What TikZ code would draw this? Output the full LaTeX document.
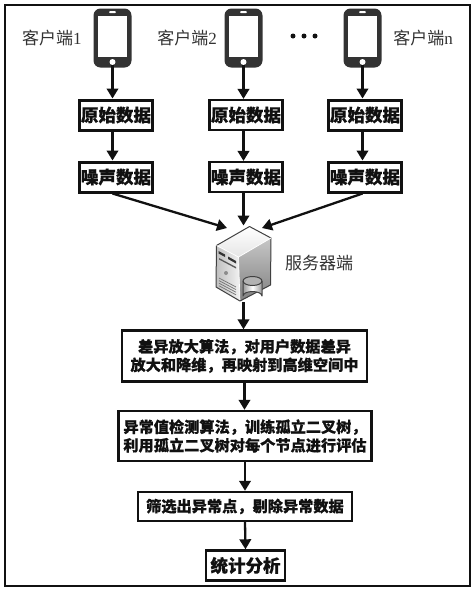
\documentclass[tikz,border=0pt]{standalone}
\usepackage{fontspec}
\newfontfamily\cjk[BoldFeatures={FakeBold=0.35}]{Noto Sans CJK SC}
\newfontfamily\latinserif{Liberation Serif}
\usetikzlibrary{arrows.meta,calc}
\definecolor{ink}{HTML}{111111}
\definecolor{phonecol}{HTML}{333333}
\definecolor{labelcol}{HTML}{333333}
\tikzset{
  framebox/.style={draw=ink,line width=2pt},
  databox/.style={draw=ink,line width=2.2pt,fill=white,inner sep=0pt,minimum width=73pt,minimum height=30pt,font=\cjk\bfseries\fontsize{17.5}{19}\selectfont,text=ink},
  heavybox/.style={databox,line width=3pt},
  stepbox/.style={draw=ink,line width=2.4pt,fill=white,inner sep=0pt,align=center,font=\cjk\bfseries\fontsize{15.2}{18.5}\selectfont,text=ink},
  flow/.style={draw=ink,line width=2.3pt,-{Triangle[length=10pt,width=11.5pt]}},
  label/.style={inner sep=0pt,text=labelcol,font=\cjk\fontsize{17}{19}\selectfont},
  phonebody/.style={fill=phonecol,rounded corners=7pt,minimum width=38pt,minimum height=59pt,inner sep=0pt},
  edgeline/.style={draw=black!75,line width=1pt,line join=round},
}
\newcommand{\phonedetail}[1]{%
  \fill[white] ($(#1.center)+(-14.5,-22.5)$) rectangle ($(#1.center)+(14.5,18.5)$);
  \fill[white,rounded corners=1pt] ($(#1.center)+(-3.5,-27)$) rectangle ($(#1.center)+(3.5,-25)$);
  \fill[white] ($(#1.center)+(0,24)$) circle (3pt);
}
\begin{document}
\begin{tikzpicture}[x=1pt,y=-1pt]
\useasboundingbox (0,0) rectangle (474,590);
\fill[white] (0,0) rectangle (474,590);
\coordinate (fa) at (4.5,4.5);
\coordinate (fb) at (470,585.5);
\draw[framebox] (fa) rectangle (fb);

% phones
\node[phonebody] (p1) at (112.5,38) {};
\node[phonebody] (p2) at (243.5,38) {};
\node[phonebody] (p3) at (362.5,38) {};
\phonedetail{p1}\phonedetail{p2}\phonedetail{p3}

% client labels
\node[label] (l1) at (52,38) {客户端{\latinserif 1}};
\node[label] (l2) at (187,38) {客户端{\latinserif 2}};
\node[label] (l3) at (423,38) {客户端{\latinserif n}};
\fill[ink] (293,36) circle (2.5pt);
\fill[ink] (304,36) circle (2.5pt);
\fill[ink] (315,36) circle (2.5pt);

% raw / noise boxes
\node[heavybox] (r1) at (116,115) {原始数据};
\node[databox] (r2) at (246,115) {原始数据};
\node[heavybox] (r3) at (365,115) {原始数据};
\node[heavybox] (n1) at (116,177) {噪声数据};
\node[databox] (n2) at (246,177) {噪声数据};
\node[heavybox] (n3) at (365,177) {噪声数据};

% server
\node[inner sep=0pt,minimum width=56pt,minimum height=76pt] (srv) at (243.5,264) {};
\coordinate (s1) at (227,228);
\coordinate (s2) at (243.5,225.5);
\coordinate (s3) at (262,228);
\path[shade,top color=white,bottom color=black!10] (216.5,245.5) -- (249.5,226.5) -- (271,238) -- (238.5,257) -- cycle;
\path[shade,top color=black!22,bottom color=black!50] (238.5,257) -- (271,238) -- (270.5,285) -- (240,301) -- cycle;
\path[shade,left color=black!25,right color=black!5] (216.5,245.5) -- (238.5,257) -- (240,301) -- (216,287) -- cycle;
\draw[edgeline] (216.5,245.5) -- (249.5,226.5) -- (271,238) -- (270.5,285) -- (240,301) -- (216,287) -- cycle;
\draw[white,line width=.8pt] (216.5,245.5) -- (238.5,257) -- (271,238);
\draw[white,line width=.6pt] (238.5,257) -- (240,300);
\fill[black!80] (218.5,251) -- (225,254.5) -- (225,257) -- (218.5,253.5) -- cycle;
\fill[black!80] (228,256.5) -- (236,261) -- (236,263.5) -- (228,259) -- cycle;
\fill[black!65] (219,258) -- (236,267) -- (236,268.5) -- (219,259.5) -- cycle;
\fill[black!45] (226,273) circle (2pt);
\foreach \k in {0,1,2,3}{
  \draw[black!55,line width=.7pt] (219,{278+\k*2.6}) -- (236,{287+\k*2.6});
}
% cylinder
\fill[white] (243,281) -- (243,296) arc[start angle=180,end angle=360,x radius=9.5,y radius=4.5] -- (262,281) -- cycle;
\path[shade,left color=black!40,right color=black!40,middle color=white] (243,281) -- (243,296) arc[start angle=180,end angle=360,x radius=9.5,y radius=4.5] -- (262,281) -- cycle;
\fill[black!30] (252.5,281) ellipse[x radius=9.5,y radius=4.5];
\draw[edgeline] (243,281) -- (243,296) arc[start angle=180,end angle=360,x radius=9.5,y radius=4.5] -- (262,281);
\draw[edgeline] (252.5,281) ellipse[x radius=9.5,y radius=4.5];

\node[label] (srvl) at (319,263) {服务器端};

% process boxes
\node[stepbox,minimum width=245pt,minimum height=51pt] (b1) at (244.5,356) {差异放大算法，对用户数据差异\\放大和降维，再映射到高维空间中};
\node[stepbox,minimum width=253pt,minimum height=50pt] (b2) at (245,436) {异常值检测算法，训练孤立二叉树，\\利用孤立二叉树对每个节点进行评估};
\node[stepbox,minimum width=214pt,minimum height=29pt] (b3) at (245,506.5) {筛选出异常点，剔除异常数据};
\node[stepbox,minimum width=79pt,minimum height=30pt,font=\cjk\bfseries\fontsize{17.5}{19}\selectfont] (b4) at (245.5,565.5) {统计分析};

% connectors
\foreach \i in {1,2,3}{
  \draw[flow] ([yshift=3pt]p\i.south) -- (p\i.south |- r\i.north);
  \draw[flow] (p\i.south |- r\i.south) -- (p\i.south |- n\i.north);
}
\draw[flow] (n1.south -| p1) -- (s1);
\draw[flow] (n2.south -| p2) -- (s2);
\draw[flow] (n3.south -| p3) -- (s3);
\draw[flow] (srv.south) -- (srv.south |- b1.north);
\draw[flow] (b1.south) -- (b1.south |- b2.north);
\draw[flow] (b2.south) -- (b3.north);
\draw[flow] (b3.south) -- (b4.north);
\end{tikzpicture}
\end{document}
